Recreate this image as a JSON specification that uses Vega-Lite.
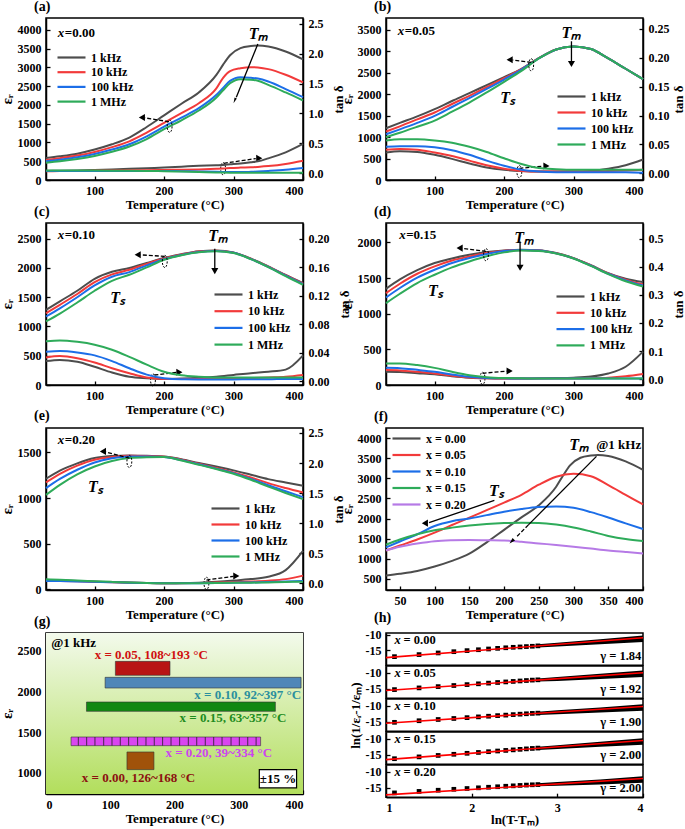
{
"$schema":"https://vega.github.io/schema/vega-lite/v6.json",
"background":"white",
"padding":{"left":-2,"top":-2,"right":0,"bottom":0},
"columns":2,
"spacing":{"row":43,"column":83},
"bounds":"flush",
"config":{
 "font":"Liberation Serif",
 "view":{"stroke":"black","strokeWidth":1.5},
 "axis":{"labelFont":"Liberation Serif","labelFontSize":12,"labelFontWeight":"bold","labelColor":"black","titleFont":"Liberation Serif","titleFontSize":13,"titleFontWeight":"bold","titleColor":"black","domainColor":"black","domainWidth":1.5,"tickColor":"black","tickWidth":1.3,"tickSize":-4,"labelPadding":9,"grid":false,"titlePadding":4},
 "axisX":{"titlePadding":2},
 "axisY":{"titlePadding":3},
 "title":{"font":"Liberation Serif","fontSize":14,"fontWeight":"bold","color":"black","anchor":"start","frame":"group","dx":-12,"offset":0},
 "text":{"font":"Liberation Serif","fontWeight":"bold","color":"black"},
 "legend":{"labelFont":"Liberation Serif","labelFontSize":12,"labelFontWeight":"bold","labelColor":"black","padding":0}
},
"resolve":{"scale":{"x":"independent","y":"independent","color":"independent","shape":"independent"}},
"datasets":{
"eps":[
{"p":"0.00","T":30,"1 kHz":585,"10 kHz":533,"100 kHz":498,"1 MHz":462},
{"p":"0.00","T":50,"1 kHz":630,"10 kHz":580,"100 kHz":540,"1 MHz":500},
{"p":"0.00","T":75,"1 kHz":700,"10 kHz":650,"100 kHz":605,"1 MHz":560},
{"p":"0.00","T":100,"1 kHz":810,"10 kHz":747,"100 kHz":693,"1 MHz":640},
{"p":"0.00","T":125,"1 kHz":950,"10 kHz":875,"100 kHz":810,"1 MHz":750},
{"p":"0.00","T":150,"1 kHz":1130,"10 kHz":1030,"100 kHz":950,"1 MHz":890},
{"p":"0.00","T":175,"1 kHz":1410,"10 kHz":1260,"100 kHz":1160,"1 MHz":1090},
{"p":"0.00","T":200,"1 kHz":1720,"10 kHz":1520,"100 kHz":1420,"1 MHz":1351},
{"p":"0.00","T":225,"1 kHz":2030,"10 kHz":1780,"100 kHz":1660,"1 MHz":1590},
{"p":"0.00","T":250,"1 kHz":2330,"10 kHz":2044,"100 kHz":1911,"1 MHz":1849},
{"p":"0.00","T":275,"1 kHz":2790,"10 kHz":2430,"100 kHz":2260,"1 MHz":2190},
{"p":"0.00","T":285,"1 kHz":3070,"10 kHz":2720,"100 kHz":2450,"1 MHz":2390},
{"p":"0.00","T":295,"1 kHz":3320,"10 kHz":2900,"100 kHz":2640,"1 MHz":2575},
{"p":"0.00","T":310,"1 kHz":3510,"10 kHz":2975,"100 kHz":2738,"1 MHz":2684},
{"p":"0.00","T":325,"1 kHz":3565,"10 kHz":3004,"100 kHz":2720,"1 MHz":2670},
{"p":"0.00","T":335,"1 kHz":3580,"10 kHz":2995,"100 kHz":2700,"1 MHz":2640},
{"p":"0.00","T":350,"1 kHz":3555,"10 kHz":2951,"100 kHz":2622,"1 MHz":2533},
{"p":"0.00","T":375,"1 kHz":3420,"10 kHz":2800,"100 kHz":2420,"1 MHz":2330},
{"p":"0.00","T":400,"1 kHz":3210,"10 kHz":2596,"100 kHz":2204,"1 MHz":2116},
{"p":"0.05","T":30,"1 kHz":1206,"10 kHz":1128,"100 kHz":1066,"1 MHz":996},
{"p":"0.05","T":50,"1 kHz":1330,"10 kHz":1250,"100 kHz":1180,"1 MHz":1100},
{"p":"0.05","T":75,"1 kHz":1480,"10 kHz":1410,"100 kHz":1330,"1 MHz":1240},
{"p":"0.05","T":100,"1 kHz":1649,"10 kHz":1571,"100 kHz":1493,"1 MHz":1384},
{"p":"0.05","T":125,"1 kHz":1840,"10 kHz":1770,"100 kHz":1700,"1 MHz":1590},
{"p":"0.05","T":150,"1 kHz":2022,"10 kHz":1960,"100 kHz":1906,"1 MHz":1804},
{"p":"0.05","T":175,"1 kHz":2210,"10 kHz":2160,"100 kHz":2120,"1 MHz":2040},
{"p":"0.05","T":200,"1 kHz":2396,"10 kHz":2370,"100 kHz":2340,"1 MHz":2287},
{"p":"0.05","T":225,"1 kHz":2590,"10 kHz":2580,"100 kHz":2570,"1 MHz":2540},
{"p":"0.05","T":250,"1 kHz":2840,"10 kHz":2835,"100 kHz":2833,"1 MHz":2830},
{"p":"0.05","T":275,"1 kHz":3040,"10 kHz":3040,"100 kHz":3040,"1 MHz":3040},
{"p":"0.05","T":300,"1 kHz":3110,"10 kHz":3110,"100 kHz":3110,"1 MHz":3110},
{"p":"0.05","T":325,"1 kHz":3050,"10 kHz":3050,"100 kHz":3050,"1 MHz":3050},
{"p":"0.05","T":350,"1 kHz":2830,"10 kHz":2830,"100 kHz":2830,"1 MHz":2830},
{"p":"0.05","T":375,"1 kHz":2590,"10 kHz":2590,"100 kHz":2590,"1 MHz":2590},
{"p":"0.05","T":400,"1 kHz":2350,"10 kHz":2350,"100 kHz":2350,"1 MHz":2350},
{"p":"0.10","T":30,"1 kHz":1284,"10 kHz":1227,"100 kHz":1170,"1 MHz":1085},
{"p":"0.10","T":50,"1 kHz":1430,"10 kHz":1370,"100 kHz":1310,"1 MHz":1220},
{"p":"0.10","T":75,"1 kHz":1610,"10 kHz":1555,"100 kHz":1500,"1 MHz":1410},
{"p":"0.10","T":100,"1 kHz":1815,"10 kHz":1758,"100 kHz":1701,"1 MHz":1610},
{"p":"0.10","T":125,"1 kHz":1935,"10 kHz":1890,"100 kHz":1850,"1 MHz":1780},
{"p":"0.10","T":150,"1 kHz":2000,"10 kHz":1969,"100 kHz":1929,"1 MHz":1884},
{"p":"0.10","T":175,"1 kHz":2085,"10 kHz":2070,"100 kHz":2045,"1 MHz":2010},
{"p":"0.10","T":200,"1 kHz":2169,"10 kHz":2160,"100 kHz":2150,"1 MHz":2140},
{"p":"0.10","T":225,"1 kHz":2235,"10 kHz":2228,"100 kHz":2222,"1 MHz":2218},
{"p":"0.10","T":250,"1 kHz":2285,"10 kHz":2280,"100 kHz":2272,"1 MHz":2268},
{"p":"0.10","T":275,"1 kHz":2300,"10 kHz":2295,"100 kHz":2288,"1 MHz":2285},
{"p":"0.10","T":300,"1 kHz":2266,"10 kHz":2262,"100 kHz":2258,"1 MHz":2255},
{"p":"0.10","T":325,"1 kHz":2160,"10 kHz":2157,"100 kHz":2153,"1 MHz":2150},
{"p":"0.10","T":350,"1 kHz":2026,"10 kHz":2022,"100 kHz":2018,"1 MHz":2015},
{"p":"0.10","T":375,"1 kHz":1880,"10 kHz":1875,"100 kHz":1868,"1 MHz":1860},
{"p":"0.10","T":400,"1 kHz":1741,"10 kHz":1732,"100 kHz":1722,"1 MHz":1712},
{"p":"0.15","T":30,"1 kHz":1349,"10 kHz":1288,"100 kHz":1227,"1 MHz":1148},
{"p":"0.15","T":50,"1 kHz":1480,"10 kHz":1420,"100 kHz":1360,"1 MHz":1280},
{"p":"0.15","T":75,"1 kHz":1610,"10 kHz":1560,"100 kHz":1505,"1 MHz":1430},
{"p":"0.15","T":100,"1 kHz":1710,"10 kHz":1663,"100 kHz":1616,"1 MHz":1546},
{"p":"0.15","T":125,"1 kHz":1775,"10 kHz":1745,"100 kHz":1710,"1 MHz":1650},
{"p":"0.15","T":150,"1 kHz":1827,"10 kHz":1803,"100 kHz":1780,"1 MHz":1733},
{"p":"0.15","T":175,"1 kHz":1865,"10 kHz":1850,"100 kHz":1838,"1 MHz":1805},
{"p":"0.15","T":200,"1 kHz":1888,"10 kHz":1882,"100 kHz":1878,"1 MHz":1860},
{"p":"0.15","T":225,"1 kHz":1897,"10 kHz":1895,"100 kHz":1893,"1 MHz":1885},
{"p":"0.15","T":250,"1 kHz":1890,"10 kHz":1888,"100 kHz":1886,"1 MHz":1880},
{"p":"0.15","T":275,"1 kHz":1850,"10 kHz":1848,"100 kHz":1846,"1 MHz":1845},
{"p":"0.15","T":300,"1 kHz":1780,"10 kHz":1778,"100 kHz":1776,"1 MHz":1775},
{"p":"0.15","T":325,"1 kHz":1680,"10 kHz":1677,"100 kHz":1674,"1 MHz":1670},
{"p":"0.15","T":350,"1 kHz":1569,"10 kHz":1565,"100 kHz":1560,"1 MHz":1555},
{"p":"0.15","T":375,"1 kHz":1490,"10 kHz":1478,"100 kHz":1468,"1 MHz":1455},
{"p":"0.15","T":400,"1 kHz":1443,"10 kHz":1410,"100 kHz":1395,"1 MHz":1382},
{"p":"0.20","T":30,"1 kHz":1211,"10 kHz":1171,"100 kHz":1109,"1 MHz":1035},
{"p":"0.20","T":50,"1 kHz":1300,"10 kHz":1265,"100 kHz":1210,"1 MHz":1145},
{"p":"0.20","T":75,"1 kHz":1380,"10 kHz":1355,"100 kHz":1310,"1 MHz":1260},
{"p":"0.20","T":100,"1 kHz":1438,"10 kHz":1420,"100 kHz":1390,"1 MHz":1346},
{"p":"0.20","T":125,"1 kHz":1460,"10 kHz":1450,"100 kHz":1435,"1 MHz":1405},
{"p":"0.20","T":150,"1 kHz":1467,"10 kHz":1462,"100 kHz":1456,"1 MHz":1438},
{"p":"0.20","T":175,"1 kHz":1462,"10 kHz":1460,"100 kHz":1455,"1 MHz":1447},
{"p":"0.20","T":200,"1 kHz":1456,"10 kHz":1452,"100 kHz":1450,"1 MHz":1449},
{"p":"0.20","T":225,"1 kHz":1425,"10 kHz":1420,"100 kHz":1415,"1 MHz":1412},
{"p":"0.20","T":250,"1 kHz":1383,"10 kHz":1375,"100 kHz":1370,"1 MHz":1365},
{"p":"0.20","T":275,"1 kHz":1345,"10 kHz":1330,"100 kHz":1322,"1 MHz":1317},
{"p":"0.20","T":300,"1 kHz":1303,"10 kHz":1281,"100 kHz":1273,"1 MHz":1266},
{"p":"0.20","T":325,"1 kHz":1255,"10 kHz":1225,"100 kHz":1210,"1 MHz":1200},
{"p":"0.20","T":350,"1 kHz":1207,"10 kHz":1163,"100 kHz":1140,"1 MHz":1125},
{"p":"0.20","T":375,"1 kHz":1170,"10 kHz":1110,"100 kHz":1075,"1 MHz":1055},
{"p":"0.20","T":400,"1 kHz":1134,"10 kHz":1061,"100 kHz":1010,"1 MHz":988}
],
"tan":[
{"p":"0.00","T":30,"1 kHz":0.04,"10 kHz":0.035,"100 kHz":0.04,"1 MHz":0.045},
{"p":"0.00","T":50,"1 kHz":0.043,"10 kHz":0.037,"100 kHz":0.04,"1 MHz":0.045},
{"p":"0.00","T":75,"1 kHz":0.048,"10 kHz":0.04,"100 kHz":0.04,"1 MHz":0.045},
{"p":"0.00","T":100,"1 kHz":0.056,"10 kHz":0.045,"100 kHz":0.04,"1 MHz":0.045},
{"p":"0.00","T":125,"1 kHz":0.065,"10 kHz":0.047,"100 kHz":0.04,"1 MHz":0.044},
{"p":"0.00","T":150,"1 kHz":0.075,"10 kHz":0.05,"100 kHz":0.04,"1 MHz":0.042},
{"p":"0.00","T":175,"1 kHz":0.085,"10 kHz":0.052,"100 kHz":0.04,"1 MHz":0.038},
{"p":"0.00","T":200,"1 kHz":0.095,"10 kHz":0.055,"100 kHz":0.04,"1 MHz":0.035},
{"p":"0.00","T":225,"1 kHz":0.11,"10 kHz":0.06,"100 kHz":0.035,"1 MHz":0.028},
{"p":"0.00","T":250,"1 kHz":0.125,"10 kHz":0.065,"100 kHz":0.03,"1 MHz":0.02},
{"p":"0.00","T":275,"1 kHz":0.135,"10 kHz":0.075,"100 kHz":0.025,"1 MHz":0.015},
{"p":"0.00","T":285,"1 kHz":0.14,"10 kHz":0.08,"100 kHz":0.022,"1 MHz":0.013},
{"p":"0.00","T":295,"1 kHz":0.15,"10 kHz":0.088,"100 kHz":0.02,"1 MHz":0.011},
{"p":"0.00","T":310,"1 kHz":0.165,"10 kHz":0.095,"100 kHz":0.02,"1 MHz":0.01},
{"p":"0.00","T":325,"1 kHz":0.185,"10 kHz":0.1,"100 kHz":0.025,"1 MHz":0.01},
{"p":"0.00","T":335,"1 kHz":0.2,"10 kHz":0.107,"100 kHz":0.03,"1 MHz":0.01},
{"p":"0.00","T":350,"1 kHz":0.25,"10 kHz":0.12,"100 kHz":0.04,"1 MHz":0.01},
{"p":"0.00","T":375,"1 kHz":0.35,"10 kHz":0.155,"100 kHz":0.06,"1 MHz":0.01},
{"p":"0.00","T":400,"1 kHz":0.49,"10 kHz":0.21,"100 kHz":0.09,"1 MHz":0.01},
{"p":"0.05","T":30,"1 kHz":0.036,"10 kHz":0.041,"100 kHz":0.046,"1 MHz":0.057},
{"p":"0.05","T":50,"1 kHz":0.038,"10 kHz":0.042,"100 kHz":0.047,"1 MHz":0.059},
{"p":"0.05","T":75,"1 kHz":0.037,"10 kHz":0.041,"100 kHz":0.047,"1 MHz":0.059},
{"p":"0.05","T":100,"1 kHz":0.032,"10 kHz":0.036,"100 kHz":0.045,"1 MHz":0.057},
{"p":"0.05","T":125,"1 kHz":0.025,"10 kHz":0.03,"100 kHz":0.04,"1 MHz":0.053},
{"p":"0.05","T":150,"1 kHz":0.017,"10 kHz":0.022,"100 kHz":0.032,"1 MHz":0.046},
{"p":"0.05","T":175,"1 kHz":0.01,"10 kHz":0.014,"100 kHz":0.022,"1 MHz":0.037},
{"p":"0.05","T":200,"1 kHz":0.006,"10 kHz":0.008,"100 kHz":0.013,"1 MHz":0.026},
{"p":"0.05","T":225,"1 kHz":0.004,"10 kHz":0.004,"100 kHz":0.006,"1 MHz":0.016},
{"p":"0.05","T":250,"1 kHz":0.003,"10 kHz":0.003,"100 kHz":0.003,"1 MHz":0.009},
{"p":"0.05","T":275,"1 kHz":0.003,"10 kHz":0.003,"100 kHz":0.002,"1 MHz":0.007},
{"p":"0.05","T":300,"1 kHz":0.003,"10 kHz":0.003,"100 kHz":0.002,"1 MHz":0.006},
{"p":"0.05","T":325,"1 kHz":0.004,"10 kHz":0.003,"100 kHz":0.002,"1 MHz":0.006},
{"p":"0.05","T":350,"1 kHz":0.008,"10 kHz":0.004,"100 kHz":0.002,"1 MHz":0.006},
{"p":"0.05","T":375,"1 kHz":0.014,"10 kHz":0.005,"100 kHz":0.002,"1 MHz":0.006},
{"p":"0.05","T":400,"1 kHz":0.024,"10 kHz":0.006,"100 kHz":0.001,"1 MHz":0.006},
{"p":"0.10","T":30,"1 kHz":0.028,"10 kHz":0.033,"100 kHz":0.041,"1 MHz":0.056},
{"p":"0.10","T":50,"1 kHz":0.0296,"10 kHz":0.035,"100 kHz":0.042,"1 MHz":0.057},
{"p":"0.10","T":75,"1 kHz":0.027,"10 kHz":0.032,"100 kHz":0.04,"1 MHz":0.055},
{"p":"0.10","T":100,"1 kHz":0.02,"10 kHz":0.026,"100 kHz":0.036,"1 MHz":0.051},
{"p":"0.10","T":125,"1 kHz":0.012,"10 kHz":0.018,"100 kHz":0.028,"1 MHz":0.044},
{"p":"0.10","T":150,"1 kHz":0.006,"10 kHz":0.011,"100 kHz":0.018,"1 MHz":0.034},
{"p":"0.10","T":175,"1 kHz":0.004,"10 kHz":0.005,"100 kHz":0.009,"1 MHz":0.023},
{"p":"0.10","T":200,"1 kHz":0.003,"10 kHz":0.003,"100 kHz":0.004,"1 MHz":0.013},
{"p":"0.10","T":225,"1 kHz":0.0035,"10 kHz":0.003,"100 kHz":0.0025,"1 MHz":0.008},
{"p":"0.10","T":250,"1 kHz":0.0045,"10 kHz":0.003,"100 kHz":0.0023,"1 MHz":0.006},
{"p":"0.10","T":275,"1 kHz":0.006,"10 kHz":0.003,"100 kHz":0.0023,"1 MHz":0.005},
{"p":"0.10","T":300,"1 kHz":0.0085,"10 kHz":0.003,"100 kHz":0.0023,"1 MHz":0.005},
{"p":"0.10","T":325,"1 kHz":0.011,"10 kHz":0.004,"100 kHz":0.0025,"1 MHz":0.005},
{"p":"0.10","T":350,"1 kHz":0.013,"10 kHz":0.005,"100 kHz":0.0025,"1 MHz":0.005},
{"p":"0.10","T":375,"1 kHz":0.016,"10 kHz":0.006,"100 kHz":0.003,"1 MHz":0.005},
{"p":"0.10","T":400,"1 kHz":0.036,"10 kHz":0.0085,"100 kHz":0.003,"1 MHz":0.005},
{"p":"0.15","T":30,"1 kHz":0.026,"10 kHz":0.032,"100 kHz":0.04,"1 MHz":0.056},
{"p":"0.15","T":50,"1 kHz":0.025,"10 kHz":0.031,"100 kHz":0.039,"1 MHz":0.056},
{"p":"0.15","T":75,"1 kHz":0.021,"10 kHz":0.026,"100 kHz":0.033,"1 MHz":0.05},
{"p":"0.15","T":100,"1 kHz":0.017,"10 kHz":0.02,"100 kHz":0.026,"1 MHz":0.04},
{"p":"0.15","T":125,"1 kHz":0.01,"10 kHz":0.012,"100 kHz":0.016,"1 MHz":0.026},
{"p":"0.15","T":150,"1 kHz":0.005,"10 kHz":0.006,"100 kHz":0.008,"1 MHz":0.014},
{"p":"0.15","T":175,"1 kHz":0.003,"10 kHz":0.003,"100 kHz":0.004,"1 MHz":0.007},
{"p":"0.15","T":200,"1 kHz":0.0024,"10 kHz":0.002,"100 kHz":0.003,"1 MHz":0.004},
{"p":"0.15","T":225,"1 kHz":0.0024,"10 kHz":0.002,"100 kHz":0.002,"1 MHz":0.003},
{"p":"0.15","T":250,"1 kHz":0.0028,"10 kHz":0.002,"100 kHz":0.002,"1 MHz":0.002},
{"p":"0.15","T":275,"1 kHz":0.0035,"10 kHz":0.002,"100 kHz":0.002,"1 MHz":0.002},
{"p":"0.15","T":300,"1 kHz":0.005,"10 kHz":0.002,"100 kHz":0.002,"1 MHz":0.002},
{"p":"0.15","T":325,"1 kHz":0.009,"10 kHz":0.003,"100 kHz":0.002,"1 MHz":0.002},
{"p":"0.15","T":350,"1 kHz":0.02,"10 kHz":0.005,"100 kHz":0.002,"1 MHz":0.002},
{"p":"0.15","T":375,"1 kHz":0.044,"10 kHz":0.01,"100 kHz":0.002,"1 MHz":0.002},
{"p":"0.15","T":400,"1 kHz":0.098,"10 kHz":0.018,"100 kHz":0.0024,"1 MHz":0.002},
{"p":"0.20","T":30,"1 kHz":0.056,"10 kHz":0.044,"100 kHz":0.04,"1 MHz":0.067},
{"p":"0.20","T":50,"1 kHz":0.05,"10 kHz":0.04,"100 kHz":0.037,"1 MHz":0.06},
{"p":"0.20","T":75,"1 kHz":0.04,"10 kHz":0.034,"100 kHz":0.032,"1 MHz":0.048},
{"p":"0.20","T":100,"1 kHz":0.028,"10 kHz":0.026,"100 kHz":0.025,"1 MHz":0.035},
{"p":"0.20","T":125,"1 kHz":0.02,"10 kHz":0.018,"100 kHz":0.018,"1 MHz":0.024},
{"p":"0.20","T":150,"1 kHz":0.012,"10 kHz":0.01,"100 kHz":0.01,"1 MHz":0.014},
{"p":"0.20","T":175,"1 kHz":0.005,"10 kHz":0.005,"100 kHz":0.005,"1 MHz":0.006},
{"p":"0.20","T":200,"1 kHz":0.002,"10 kHz":0.002,"100 kHz":0.002,"1 MHz":0.002},
{"p":"0.20","T":225,"1 kHz":0.004,"10 kHz":0.003,"100 kHz":0.002,"1 MHz":0.002},
{"p":"0.20","T":250,"1 kHz":0.011,"10 kHz":0.005,"100 kHz":0.003,"1 MHz":0.002},
{"p":"0.20","T":275,"1 kHz":0.025,"10 kHz":0.012,"100 kHz":0.005,"1 MHz":0.004},
{"p":"0.20","T":300,"1 kHz":0.045,"10 kHz":0.02,"100 kHz":0.01,"1 MHz":0.008},
{"p":"0.20","T":325,"1 kHz":0.07,"10 kHz":0.03,"100 kHz":0.015,"1 MHz":0.011},
{"p":"0.20","T":350,"1 kHz":0.11,"10 kHz":0.044,"100 kHz":0.02,"1 MHz":0.015},
{"p":"0.20","T":375,"1 kHz":0.22,"10 kHz":0.07,"100 kHz":0.03,"1 MHz":0.022},
{"p":"0.20","T":400,"1 kHz":0.54,"10 kHz":0.128,"100 kHz":0.04,"1 MHz":0.028}
],
"ann":[
{"p":"0.00","k":"x","T":47,"v":3911,"lab":"=0.00"},
{"p":"0.00","k":"T","T":336,"v":3880,"lab":"Tₘ"},
{"p":"0.00","k":"r","T":335,"v":3620,"T2":304,"v2":2200},
{"p":"0.00","k":"h","T":302,"v":2140,"h":"DL2"},
{"p":"0.00","k":"q","T":207,"v":1552,"T2":172,"v2":1655},
{"p":"0.00","k":"h","T":168,"v":1662,"h":"L"},
{"p":"0.00","k":"q","T":286,"v":445,"T2":332,"v2":570},
{"p":"0.00","k":"h","T":337,"v":578,"h":"R"},
{"p":"0.00","k":"e","T":208,"v":1430},
{"p":"0.00","k":"e","T":285,"v":300},
{"p":"0.05","k":"x","T":47,"v":3461,"lab":"=0.05"},
{"p":"0.05","k":"T","T":297,"v":3422,"lab":"Tₘ"},
{"p":"0.05","k":"T","T":205,"v":1906,"lab":"Tₛ"},
{"p":"0.05","k":"r","T":297,"v":3230,"T2":297,"v2":2740},
{"p":"0.05","k":"h","T":297,"v":2700,"h":"D"},
{"p":"0.05","k":"q","T":239,"v":2738,"T2":212,"v2":2795},
{"p":"0.05","k":"h","T":208,"v":2800,"h":"L"},
{"p":"0.05","k":"q","T":222,"v":272,"T2":256,"v2":322},
{"p":"0.05","k":"h","T":261,"v":327,"h":"R"},
{"p":"0.05","k":"e","T":239,"v":2683},
{"p":"0.05","k":"e","T":222,"v":194},
{"p":"0.10","k":"x","T":47,"v":2569,"lab":"=0.10"},
{"p":"0.10","k":"T","T":278,"v":2540,"lab":"Tₘ"},
{"p":"0.10","k":"T","T":133,"v":1484,"lab":"Tₛ"},
{"p":"0.10","k":"r","T":273,"v":2330,"T2":273,"v2":1975},
{"p":"0.10","k":"h","T":273,"v":1945,"h":"D"},
{"p":"0.10","k":"q","T":201,"v":2198,"T2":166,"v2":2224},
{"p":"0.10","k":"h","T":162,"v":2226,"h":"L"},
{"p":"0.10","k":"q","T":186,"v":171,"T2":218,"v2":214},
{"p":"0.10","k":"h","T":222,"v":217,"h":"R"},
{"p":"0.10","k":"e","T":201,"v":2112},
{"p":"0.10","k":"e","T":184,"v":86},
{"p":"0.15","k":"x","T":49,"v":2108,"lab":"=0.15"},
{"p":"0.15","k":"T","T":229,"v":2061,"lab":"Tₘ"},
{"p":"0.15","k":"T","T":101,"v":1321,"lab":"Tₛ"},
{"p":"0.15","k":"r","T":223,"v":2014,"T2":223,"v2":1670},
{"p":"0.15","k":"h","T":223,"v":1645,"h":"D"},
{"p":"0.15","k":"q","T":174,"v":1874,"T2":140,"v2":1916},
{"p":"0.15","k":"h","T":136,"v":1920,"h":"L"},
{"p":"0.15","k":"q","T":169,"v":164,"T2":204,"v2":195},
{"p":"0.15","k":"h","T":208,"v":197,"h":"R"},
{"p":"0.15","k":"e","T":174,"v":1827},
{"p":"0.15","k":"e","T":169,"v":94},
{"p":"0.20","k":"x","T":47,"v":1639,"lab":"=0.20"},
{"p":"0.20","k":"T","T":101,"v":1120,"lab":"Tₛ"},
{"p":"0.20","k":"q","T":150,"v":1438,"T2":116,"v2":1505},
{"p":"0.20","k":"h","T":112,"v":1511,"h":"L"},
{"p":"0.20","k":"q","T":261,"v":102,"T2":300,"v2":143},
{"p":"0.20","k":"h","T":304,"v":146,"h":"R"},
{"p":"0.20","k":"e","T":150,"v":1401},
{"p":"0.20","k":"e","T":261,"v":66},
{"p":"f","k":"T","T":308,"v":3834,"lab":"Tₘ"},
{"p":"f","k":"t","T":365,"v":3834,"lab":"@1 kHz"},
{"p":"f","k":"r","T":333,"v":3544,"T2":235,"v2":1844},
{"p":"f","k":"q","T":235,"v":1844,"T2":217,"v2":1530},
{"p":"f","k":"h","T":213,"v":1470,"h":"DL"},
{"p":"f","k":"T","T":189,"v":2673,"lab":"Tₛ"},
{"p":"f","k":"r","T":186,"v":2449,"T2":92,"v2":1900},
{"p":"f","k":"h","T":86,"v":1886,"h":"L"}
],
"g":[
{"c":"0.05","x1":108,"x2":193,"y1":2194,"y2":2365,"lab":"x = 0.05, 108~193 °C","lx":252,"ly":2447},
{"c":"0.10","x1":92,"x2":397,"y1":2039,"y2":2170,"lab":"x = 0.10, 92~397 °C","lx":397,"ly":1950},
{"c":"0.15","x1":63,"x2":357,"y1":1754,"y2":1868,"lab":"x = 0.15, 63~357 °C","lx":374,"ly":1673},
{"c":"0.20","x1":39,"x2":334,"y1":1334,"y2":1440,"lab":"x = 0.20, 39~334 °C","lx":352,"ly":1245},
{"c":"0.00","x1":126,"x2":168,"y1":1041,"y2":1257,"lab":"x = 0.00, 126~168 °C","lx":232,"ly":939}
],
"sep":[
{"x":50.3,"y1":1334,"y2":1440},{"x":63.3,"y1":1334,"y2":1440},{"x":76.2,"y1":1334,"y2":1440},{"x":89.8,"y1":1334,"y2":1440},{"x":102.7,"y1":1334,"y2":1440},{"x":115.6,"y1":1334,"y2":1440},{"x":128.6,"y1":1334,"y2":1440},{"x":142.6,"y1":1334,"y2":1440},{"x":155.6,"y1":1334,"y2":1440},{"x":168.5,"y1":1334,"y2":1440},{"x":181.5,"y1":1334,"y2":1440},{"x":194.6,"y1":1334,"y2":1440},{"x":208,"y1":1334,"y2":1440},{"x":221.5,"y1":1334,"y2":1440},{"x":234.6,"y1":1334,"y2":1440},{"x":247.9,"y1":1334,"y2":1440},{"x":261,"y1":1334,"y2":1440},{"x":274,"y1":1334,"y2":1440},{"x":288,"y1":1334,"y2":1440},{"x":300.9,"y1":1334,"y2":1440},{"x":314,"y1":1334,"y2":1440},{"x":327,"y1":1334,"y2":1440}
],
"h":[
{"s":"0.00","k":"p","x":1.099,"y":-16.99},{"s":"0.00","k":"p","x":1.386,"y":-16.34},{"s":"0.00","k":"p","x":1.609,"y":-15.82},{"s":"0.00","k":"p","x":1.792,"y":-15.42},{"s":"0.00","k":"p","x":1.946,"y":-15.08},{"s":"0.00","k":"p","x":2.079,"y":-14.8},{"s":"0.00","k":"p","x":2.197,"y":-14.56},{"s":"0.00","k":"p","x":2.303,"y":-14.36},{"s":"0.00","k":"p","x":2.398,"y":-14.18},{"s":"0.00","k":"p","x":2.485,"y":-14.03},{"s":"0.00","k":"p","x":2.565,"y":-13.91},{"s":"0.00","k":"p","x":2.639,"y":-13.8},{"s":"0.00","k":"p","x":2.708,"y":-13.7},{"s":"0.00","k":"p","x":2.773,"y":-13.58},
{"s":"0.00","k":"b","x":2.773,"y":-14.08,"y2":-13.08},{"s":"0.00","k":"b","x":3.0,"y":-13.8,"y2":-12.55},{"s":"0.00","k":"b","x":3.5,"y":-13.05,"y2":-11.45},{"s":"0.00","k":"b","x":4.0,"y":-12.35,"y2":-10.3},
{"s":"0.00","k":"f","x":1,"y":-17.3},{"s":"0.00","k":"f","x":4,"y":-11.0},
{"s":"0.00","k":"t","x":1.1,"y":-11.8,"lab":"= 0.00"},{"s":"0.00","k":"g","x":3.98,"y":-16.9,"lab":"γ = 1.84"},
{"s":"0.05","k":"p","x":1.099,"y":-15.31},{"s":"0.05","k":"p","x":1.386,"y":-14.77},{"s":"0.05","k":"p","x":1.609,"y":-14.36},{"s":"0.05","k":"p","x":1.792,"y":-14.01},{"s":"0.05","k":"p","x":1.946,"y":-13.72},{"s":"0.05","k":"p","x":2.079,"y":-13.47},{"s":"0.05","k":"p","x":2.197,"y":-13.25},{"s":"0.05","k":"p","x":2.303,"y":-13.05},{"s":"0.05","k":"p","x":2.398,"y":-12.87},{"s":"0.05","k":"p","x":2.485,"y":-12.71},{"s":"0.05","k":"p","x":2.565,"y":-12.56},{"s":"0.05","k":"p","x":2.639,"y":-12.42},{"s":"0.05","k":"p","x":2.708,"y":-12.29},{"s":"0.05","k":"p","x":2.773,"y":-12.2},
{"s":"0.05","k":"b","x":2.773,"y":-12.77,"y2":-11.77},{"s":"0.05","k":"b","x":3.0,"y":-12.54,"y2":-11.29},{"s":"0.05","k":"b","x":3.5,"y":-11.9,"y2":-10.3},{"s":"0.05","k":"b","x":4.0,"y":-11.31,"y2":-9.26},
{"s":"0.05","k":"f","x":1,"y":-15.6},{"s":"0.05","k":"f","x":4,"y":-9.96},
{"s":"0.05","k":"t","x":1.1,"y":-9.9,"lab":"= 0.05"},{"s":"0.05","k":"g","x":3.98,"y":-15.2,"lab":"γ = 1.92"},
{"s":"0.10","k":"p","x":1.099,"y":-15.22},{"s":"0.10","k":"p","x":1.386,"y":-14.72},{"s":"0.10","k":"p","x":1.609,"y":-14.32},{"s":"0.10","k":"p","x":1.792,"y":-14.0},{"s":"0.10","k":"p","x":1.946,"y":-13.73},{"s":"0.10","k":"p","x":2.079,"y":-13.49},{"s":"0.10","k":"p","x":2.197,"y":-13.28},{"s":"0.10","k":"p","x":2.303,"y":-13.09},{"s":"0.10","k":"p","x":2.398,"y":-12.93},{"s":"0.10","k":"p","x":2.485,"y":-12.77},{"s":"0.10","k":"p","x":2.565,"y":-12.63},{"s":"0.10","k":"p","x":2.639,"y":-12.5},{"s":"0.10","k":"p","x":2.708,"y":-12.38},{"s":"0.10","k":"p","x":2.773,"y":-12.3},
{"s":"0.10","k":"b","x":2.773,"y":-12.86,"y2":-11.86},{"s":"0.10","k":"b","x":3.0,"y":-12.66,"y2":-11.41},{"s":"0.10","k":"b","x":3.5,"y":-12.08,"y2":-10.48},{"s":"0.10","k":"b","x":4.0,"y":-11.54,"y2":-9.49},
{"s":"0.10","k":"f","x":1,"y":-15.5},{"s":"0.10","k":"f","x":4,"y":-10.19},
{"s":"0.10","k":"t","x":1.1,"y":-9.9,"lab":"= 0.10"},{"s":"0.10","k":"g","x":3.98,"y":-15.2,"lab":"γ = 1.90"},
{"s":"0.15","k":"p","x":1.099,"y":-16.3},{"s":"0.15","k":"p","x":1.386,"y":-15.72},{"s":"0.15","k":"p","x":1.609,"y":-15.26},{"s":"0.15","k":"p","x":1.792,"y":-14.89},{"s":"0.15","k":"p","x":1.946,"y":-14.58},{"s":"0.15","k":"p","x":2.079,"y":-14.31},{"s":"0.15","k":"p","x":2.197,"y":-14.07},{"s":"0.15","k":"p","x":2.303,"y":-13.85},{"s":"0.15","k":"p","x":2.398,"y":-13.66},{"s":"0.15","k":"p","x":2.485,"y":-13.49},{"s":"0.15","k":"p","x":2.565,"y":-13.32},{"s":"0.15","k":"p","x":2.639,"y":-13.17},{"s":"0.15","k":"p","x":2.708,"y":-13.03},{"s":"0.15","k":"p","x":2.773,"y":-12.92},
{"s":"0.15","k":"b","x":2.773,"y":-13.5,"y2":-12.5},{"s":"0.15","k":"b","x":3.0,"y":-13.24,"y2":-11.99},{"s":"0.15","k":"b","x":3.5,"y":-12.53,"y2":-10.93},{"s":"0.15","k":"b","x":4.0,"y":-11.86,"y2":-9.81},
{"s":"0.15","k":"f","x":1,"y":-16.6},{"s":"0.15","k":"f","x":4,"y":-10.51},
{"s":"0.15","k":"t","x":1.1,"y":-9.9,"lab":"= 0.15"},{"s":"0.15","k":"g","x":3.98,"y":-15.2,"lab":"γ = 2.00"},
{"s":"0.20","k":"p","x":1.099,"y":-16.68},{"s":"0.20","k":"p","x":1.386,"y":-16.2},{"s":"0.20","k":"p","x":1.609,"y":-15.83},{"s":"0.20","k":"p","x":1.792,"y":-15.53},{"s":"0.20","k":"p","x":1.946,"y":-15.28},{"s":"0.20","k":"p","x":2.079,"y":-15.06},{"s":"0.20","k":"p","x":2.197,"y":-14.88},{"s":"0.20","k":"p","x":2.303,"y":-14.72},{"s":"0.20","k":"p","x":2.398,"y":-14.56},{"s":"0.20","k":"p","x":2.485,"y":-14.43},{"s":"0.20","k":"p","x":2.565,"y":-14.3},{"s":"0.20","k":"p","x":2.639,"y":-14.19},{"s":"0.20","k":"p","x":2.708,"y":-14.1},{"s":"0.20","k":"p","x":2.773,"y":-14.03},
{"s":"0.20","k":"b","x":2.773,"y":-14.53,"y2":-13.63},{"s":"0.20","k":"b","x":3.0,"y":-14.44,"y2":-13.19},{"s":"0.20","k":"b","x":3.5,"y":-13.98,"y2":-12.38},{"s":"0.20","k":"b","x":4.0,"y":-13.46,"y2":-11.41},
{"s":"0.20","k":"f","x":1,"y":-17.3},{"s":"0.20","k":"f","x":4,"y":-12.11},
{"s":"0.20","k":"t","x":1.1,"y":-9.9,"lab":"= 0.20"},{"s":"0.20","k":"g","x":3.98,"y":-15.2,"lab":"γ = 2.00"}
]
},
"concat":[
{"width":257,"height":162,"title":{"text":"(a)"},
 "encoding":{"x":{"field":"T","type":"quantitative","title":"Temperature (°C)","scale":{"domain":[30,400],"nice":false,"zero":false},"axis":{"values":[100,200,300,400]}}},
 "layer":[
  {"encoding":{"y":{"field":"v","type":"quantitative","title":"εᵣ","scale":{"domain":[0,4312],"nice":false,"zero":false},"axis":{"values":[0,500,1000,1500,2000,2500,3000,3500,4000],"format":"d","titleFontSize":15}}},
   "layer":[
    {"data":{"name":"eps"},"transform":[{"filter":"datum.p=='0.00'"},{"fold":["1 kHz","10 kHz","100 kHz","1 MHz"],"as":["f","v"]}],
     "mark":{"type":"line","interpolate":"monotone","strokeWidth":2},
     "encoding":{"color":{"field":"f","type":"nominal","scale":{"domain":["1 kHz","10 kHz","100 kHz","1 MHz"],"range":["#4d4d4d","#f23a3a","#1c6ee8","#2eab5a"]},"legend":{"orient":"none","legendX":19,"legendY":33,"title":null,"symbolType":"M-2.8,0H2.8","symbolSize":100,"symbolStrokeWidth":2.2,"labelOffset":13,"rowPadding":1.7}}}},
    {"data":{"name":"ann"},"transform":[{"filter":"datum.p=='0.00'"}],
     "layer":[
      {"transform":[{"filter":"datum.k=='x'"}],"mark":{"type":"text","text":"x","fontStyle":"italic","fontSize":13,"align":"left","baseline":"middle"}},
      {"transform":[{"filter":"datum.k=='x'"}],"mark":{"type":"text","fontSize":13,"align":"left","baseline":"middle","dx":7},"encoding":{"text":{"field":"lab"}}},
      {"transform":[{"filter":"datum.k=='T'"}],"mark":{"type":"text","fontSize":16,"fontStyle":"italic","align":"center","baseline":"middle"},"encoding":{"text":{"field":"lab"}}},
      {"transform":[{"filter":"datum.k=='r'"}],"mark":{"type":"rule","color":"black","strokeWidth":1.3},"encoding":{"x2":{"field":"T2"},"y2":{"field":"v2"}}},
      {"transform":[{"filter":"datum.k=='q'"}],"mark":{"type":"rule","color":"black","strokeWidth":1.3,"strokeDash":[4,2]},"encoding":{"x2":{"field":"T2"},"y2":{"field":"v2"}}},
      {"transform":[{"filter":"datum.k=='h'"}],"mark":{"type":"point","filled":true,"color":"black","size":50,"opacity":1},"encoding":{"shape":{"field":"h","type":"nominal","scale":{"domain":["L","R","D","DL","DL2"],"range":["triangle-left","triangle-right","triangle-down","M-1,1L-0.15,-0.55L0.55,0.15Z","M-0.4,1L0.54,-0.33L-0.1,-0.61Z"]},"legend":null}}},
      {"transform":[{"filter":"datum.k=='e'"}],"mark":{"type":"point","filled":false,"color":"black","strokeWidth":1,"strokeDash":[2,1.5],"size":150,"opacity":1,"shape":"M0,-1A0.4,1,0,1,1,0,1A0.4,1,0,1,1,0,-1Z"}}
     ]}
   ]},
  {"data":{"name":"tan"},"transform":[{"filter":"datum.p=='0.00'"},{"fold":["1 kHz","10 kHz","100 kHz","1 MHz"],"as":["f","v"]}],
   "mark":{"type":"line","interpolate":"monotone","strokeWidth":2},
   "encoding":{"y":{"field":"v","type":"quantitative","title":"tan δ","scale":{"domain":[-0.112,2.595],"nice":false,"zero":false},"axis":{"orient":"right","values":[0,0.5,1,1.5,2,2.5],"format":".1f","titleAngle":-90,"titleBaseline":"top","titlePadding":9}},
    "color":{"field":"f","type":"nominal","scale":{"domain":["1 kHz","10 kHz","100 kHz","1 MHz"],"range":["#4d4d4d","#f23a3a","#1c6ee8","#2eab5a"]},"legend":{"orient":"none","legendX":19,"legendY":33,"title":null,"symbolType":"M-2.8,0H2.8","symbolSize":100,"symbolStrokeWidth":2.2,"labelOffset":13,"rowPadding":1.7}}}}
 ],
 "resolve":{"scale":{"y":"independent"}}
},
{"width":257,"height":162,"title":{"text":"(b)"},
 "encoding":{"x":{"field":"T","type":"quantitative","title":"Temperature (°C)","scale":{"domain":[30,400],"nice":false,"zero":false},"axis":{"values":[100,200,300,400]}}},
 "layer":[
  {"encoding":{"y":{"field":"v","type":"quantitative","title":"εᵣ","scale":{"domain":[0,3772],"nice":false,"zero":false},"axis":{"values":[0,500,1000,1500,2000,2500,3000,3500],"format":"d","titleFontSize":15}}},
   "layer":[
    {"data":{"name":"eps"},"transform":[{"filter":"datum.p=='0.05'"},{"fold":["1 kHz","10 kHz","100 kHz","1 MHz"],"as":["f","v"]}],
     "mark":{"type":"line","interpolate":"monotone","strokeWidth":2},
     "encoding":{"color":{"field":"f","type":"nominal","scale":{"domain":["1 kHz","10 kHz","100 kHz","1 MHz"],"range":["#4d4d4d","#f23a3a","#1c6ee8","#2eab5a"]},"legend":{"orient":"none","legendX":179,"legendY":72,"title":null,"symbolType":"M-2.8,0H2.8","symbolSize":100,"symbolStrokeWidth":2.2,"labelOffset":13,"rowPadding":3}}}},
    {"data":{"name":"ann"},"transform":[{"filter":"datum.p=='0.05'"}],
     "layer":[
      {"transform":[{"filter":"datum.k=='x'"}],"mark":{"type":"text","text":"x","fontStyle":"italic","fontSize":13,"align":"left","baseline":"middle"}},
      {"transform":[{"filter":"datum.k=='x'"}],"mark":{"type":"text","fontSize":13,"align":"left","baseline":"middle","dx":7},"encoding":{"text":{"field":"lab"}}},
      {"transform":[{"filter":"datum.k=='T'"}],"mark":{"type":"text","fontSize":16,"fontStyle":"italic","align":"center","baseline":"middle"},"encoding":{"text":{"field":"lab"}}},
      {"transform":[{"filter":"datum.k=='r'"}],"mark":{"type":"rule","color":"black","strokeWidth":1.3},"encoding":{"x2":{"field":"T2"},"y2":{"field":"v2"}}},
      {"transform":[{"filter":"datum.k=='q'"}],"mark":{"type":"rule","color":"black","strokeWidth":1.3,"strokeDash":[4,2]},"encoding":{"x2":{"field":"T2"},"y2":{"field":"v2"}}},
      {"transform":[{"filter":"datum.k=='h'"}],"mark":{"type":"point","filled":true,"color":"black","size":50,"opacity":1},"encoding":{"shape":{"field":"h","type":"nominal","scale":{"domain":["L","R","D","DL","DL2"],"range":["triangle-left","triangle-right","triangle-down","M-1,1L-0.15,-0.55L0.55,0.15Z","M-0.4,1L0.54,-0.33L-0.1,-0.61Z"]},"legend":null}}},
      {"transform":[{"filter":"datum.k=='e'"}],"mark":{"type":"point","filled":false,"color":"black","strokeWidth":1,"strokeDash":[2,1.5],"size":150,"opacity":1,"shape":"M0,-1A0.4,1,0,1,1,0,1A0.4,1,0,1,1,0,-1Z"}}
     ]}
   ]},
  {"data":{"name":"tan"},"transform":[{"filter":"datum.p=='0.05'"},{"fold":["1 kHz","10 kHz","100 kHz","1 MHz"],"as":["f","v"]}],
   "mark":{"type":"line","interpolate":"monotone","strokeWidth":2},
   "encoding":{"y":{"field":"v","type":"quantitative","title":"tan δ","scale":{"domain":[-0.0116,0.269],"nice":false,"zero":false},"axis":{"orient":"right","values":[0,0.05,0.1,0.15,0.2,0.25],"format":".2f","titleAngle":-90,"titleBaseline":"top","titlePadding":3}},
    "color":{"field":"f","type":"nominal","scale":{"domain":["1 kHz","10 kHz","100 kHz","1 MHz"],"range":["#4d4d4d","#f23a3a","#1c6ee8","#2eab5a"]},"legend":{"orient":"none","legendX":179,"legendY":72,"title":null,"symbolType":"M-2.8,0H2.8","symbolSize":100,"symbolStrokeWidth":2.2,"labelOffset":13,"rowPadding":3}}}}
 ],
 "resolve":{"scale":{"y":"independent"}}
},
{"width":257,"height":162,"title":{"text":"(c)"},
 "encoding":{"x":{"field":"T","type":"quantitative","title":"Temperature (°C)","scale":{"domain":[30,400],"nice":false,"zero":false},"axis":{"values":[100,200,300,400]}}},
 "layer":[
  {"encoding":{"y":{"field":"v","type":"quantitative","title":"εᵣ","scale":{"domain":[0,2768],"nice":false,"zero":false},"axis":{"values":[0,500,1000,1500,2000,2500],"format":"d","titleFontSize":15}}},
   "layer":[
    {"data":{"name":"eps"},"transform":[{"filter":"datum.p=='0.10'"},{"fold":["1 kHz","10 kHz","100 kHz","1 MHz"],"as":["f","v"]}],
     "mark":{"type":"line","interpolate":"monotone","strokeWidth":2},
     "encoding":{"color":{"field":"f","type":"nominal","scale":{"domain":["1 kHz","10 kHz","100 kHz","1 MHz"],"range":["#4d4d4d","#f23a3a","#1c6ee8","#2eab5a"]},"legend":{"orient":"none","legendX":176,"legendY":65,"title":null,"symbolType":"M-2.8,0H2.8","symbolSize":100,"symbolStrokeWidth":2.2,"labelOffset":13,"rowPadding":3.7}}}},
    {"data":{"name":"ann"},"transform":[{"filter":"datum.p=='0.10'"}],
     "layer":[
      {"transform":[{"filter":"datum.k=='x'"}],"mark":{"type":"text","text":"x","fontStyle":"italic","fontSize":13,"align":"left","baseline":"middle"}},
      {"transform":[{"filter":"datum.k=='x'"}],"mark":{"type":"text","fontSize":13,"align":"left","baseline":"middle","dx":7},"encoding":{"text":{"field":"lab"}}},
      {"transform":[{"filter":"datum.k=='T'"}],"mark":{"type":"text","fontSize":16,"fontStyle":"italic","align":"center","baseline":"middle"},"encoding":{"text":{"field":"lab"}}},
      {"transform":[{"filter":"datum.k=='r'"}],"mark":{"type":"rule","color":"black","strokeWidth":1.3},"encoding":{"x2":{"field":"T2"},"y2":{"field":"v2"}}},
      {"transform":[{"filter":"datum.k=='q'"}],"mark":{"type":"rule","color":"black","strokeWidth":1.3,"strokeDash":[4,2]},"encoding":{"x2":{"field":"T2"},"y2":{"field":"v2"}}},
      {"transform":[{"filter":"datum.k=='h'"}],"mark":{"type":"point","filled":true,"color":"black","size":50,"opacity":1},"encoding":{"shape":{"field":"h","type":"nominal","scale":{"domain":["L","R","D","DL","DL2"],"range":["triangle-left","triangle-right","triangle-down","M-1,1L-0.15,-0.55L0.55,0.15Z","M-0.4,1L0.54,-0.33L-0.1,-0.61Z"]},"legend":null}}},
      {"transform":[{"filter":"datum.k=='e'"}],"mark":{"type":"point","filled":false,"color":"black","strokeWidth":1,"strokeDash":[2,1.5],"size":150,"opacity":1,"shape":"M0,-1A0.4,1,0,1,1,0,1A0.4,1,0,1,1,0,-1Z"}}
     ]}
   ]},
  {"data":{"name":"tan"},"transform":[{"filter":"datum.p=='0.10'"},{"fold":["1 kHz","10 kHz","100 kHz","1 MHz"],"as":["f","v"]}],
   "mark":{"type":"line","interpolate":"monotone","strokeWidth":2},
   "encoding":{"y":{"field":"v","type":"quantitative","title":"tan δ","scale":{"domain":[-0.0056,0.222],"nice":false,"zero":false},"axis":{"orient":"right","values":[0,0.04,0.08,0.12,0.16,0.2],"format":".2f","titleAngle":-90,"titleBaseline":"top","titlePadding":9}},
    "color":{"field":"f","type":"nominal","scale":{"domain":["1 kHz","10 kHz","100 kHz","1 MHz"],"range":["#4d4d4d","#f23a3a","#1c6ee8","#2eab5a"]},"legend":{"orient":"none","legendX":176,"legendY":65,"title":null,"symbolType":"M-2.8,0H2.8","symbolSize":100,"symbolStrokeWidth":2.2,"labelOffset":13,"rowPadding":3.7}}}}
 ],
 "resolve":{"scale":{"y":"independent"}}
},
{"width":257,"height":162,"title":{"text":"(d)"},
 "encoding":{"x":{"field":"T","type":"quantitative","title":"Temperature (°C)","scale":{"domain":[30,400],"nice":false,"zero":false},"axis":{"values":[100,200,300,400]}}},
 "layer":[
  {"encoding":{"y":{"field":"v","type":"quantitative","title":"εᵣ","scale":{"domain":[0,2272],"nice":false,"zero":false},"axis":{"values":[0,500,1000,1500,2000],"format":"d","titleFontSize":15}}},
   "layer":[
    {"data":{"name":"eps"},"transform":[{"filter":"datum.p=='0.15'"},{"fold":["1 kHz","10 kHz","100 kHz","1 MHz"],"as":["f","v"]}],
     "mark":{"type":"line","interpolate":"monotone","strokeWidth":2},
     "encoding":{"color":{"field":"f","type":"nominal","scale":{"domain":["1 kHz","10 kHz","100 kHz","1 MHz"],"range":["#4d4d4d","#f23a3a","#1c6ee8","#2eab5a"]},"legend":{"orient":"none","legendX":178,"legendY":67,"title":null,"symbolType":"M-2.8,0H2.8","symbolSize":100,"symbolStrokeWidth":2.2,"labelOffset":13,"rowPadding":3.3}}}},
    {"data":{"name":"ann"},"transform":[{"filter":"datum.p=='0.15'"}],
     "layer":[
      {"transform":[{"filter":"datum.k=='x'"}],"mark":{"type":"text","text":"x","fontStyle":"italic","fontSize":13,"align":"left","baseline":"middle"}},
      {"transform":[{"filter":"datum.k=='x'"}],"mark":{"type":"text","fontSize":13,"align":"left","baseline":"middle","dx":7},"encoding":{"text":{"field":"lab"}}},
      {"transform":[{"filter":"datum.k=='T'"}],"mark":{"type":"text","fontSize":16,"fontStyle":"italic","align":"center","baseline":"middle"},"encoding":{"text":{"field":"lab"}}},
      {"transform":[{"filter":"datum.k=='r'"}],"mark":{"type":"rule","color":"black","strokeWidth":1.3},"encoding":{"x2":{"field":"T2"},"y2":{"field":"v2"}}},
      {"transform":[{"filter":"datum.k=='q'"}],"mark":{"type":"rule","color":"black","strokeWidth":1.3,"strokeDash":[4,2]},"encoding":{"x2":{"field":"T2"},"y2":{"field":"v2"}}},
      {"transform":[{"filter":"datum.k=='h'"}],"mark":{"type":"point","filled":true,"color":"black","size":50,"opacity":1},"encoding":{"shape":{"field":"h","type":"nominal","scale":{"domain":["L","R","D","DL","DL2"],"range":["triangle-left","triangle-right","triangle-down","M-1,1L-0.15,-0.55L0.55,0.15Z","M-0.4,1L0.54,-0.33L-0.1,-0.61Z"]},"legend":null}}},
      {"transform":[{"filter":"datum.k=='e'"}],"mark":{"type":"point","filled":false,"color":"black","strokeWidth":1,"strokeDash":[2,1.5],"size":150,"opacity":1,"shape":"M0,-1A0.4,1,0,1,1,0,1A0.4,1,0,1,1,0,-1Z"}}
     ]}
   ]},
  {"data":{"name":"tan"},"transform":[{"filter":"datum.p=='0.15'"},{"fold":["1 kHz","10 kHz","100 kHz","1 MHz"],"as":["f","v"]}],
   "mark":{"type":"line","interpolate":"monotone","strokeWidth":2},
   "encoding":{"y":{"field":"v","type":"quantitative","title":"tan δ","scale":{"domain":[-0.021,0.556],"nice":false,"zero":false},"axis":{"orient":"right","values":[0,0.1,0.2,0.3,0.4,0.5],"format":".1f","titleAngle":-90,"titleBaseline":"top","titlePadding":9}},
    "color":{"field":"f","type":"nominal","scale":{"domain":["1 kHz","10 kHz","100 kHz","1 MHz"],"range":["#4d4d4d","#f23a3a","#1c6ee8","#2eab5a"]},"legend":{"orient":"none","legendX":178,"legendY":67,"title":null,"symbolType":"M-2.8,0H2.8","symbolSize":100,"symbolStrokeWidth":2.2,"labelOffset":13,"rowPadding":3.3}}}}
 ],
 "resolve":{"scale":{"y":"independent"}}
},
{"width":257,"height":162,"title":{"text":"(e)"},
 "encoding":{"x":{"field":"T","type":"quantitative","title":"Temperature (°C)","scale":{"domain":[30,400],"nice":false,"zero":false},"axis":{"values":[100,200,300,400]}}},
 "layer":[
  {"encoding":{"y":{"field":"v","type":"quantitative","title":"εᵣ","scale":{"domain":[-7,1767],"nice":false,"zero":false},"axis":{"values":[0,500,1000,1500],"format":"d","titleFontSize":15}}},
   "layer":[
    {"data":{"name":"eps"},"transform":[{"filter":"datum.p=='0.20'"},{"fold":["1 kHz","10 kHz","100 kHz","1 MHz"],"as":["f","v"]}],
     "mark":{"type":"line","interpolate":"monotone","strokeWidth":2},
     "encoding":{"color":{"field":"f","type":"nominal","scale":{"domain":["1 kHz","10 kHz","100 kHz","1 MHz"],"range":["#4d4d4d","#f23a3a","#1c6ee8","#2eab5a"]},"legend":{"orient":"none","legendX":173,"legendY":74,"title":null,"symbolType":"M-2.8,0H2.8","symbolSize":100,"symbolStrokeWidth":2.2,"labelOffset":13,"rowPadding":3}}}},
    {"data":{"name":"ann"},"transform":[{"filter":"datum.p=='0.20'"}],
     "layer":[
      {"transform":[{"filter":"datum.k=='x'"}],"mark":{"type":"text","text":"x","fontStyle":"italic","fontSize":13,"align":"left","baseline":"middle"}},
      {"transform":[{"filter":"datum.k=='x'"}],"mark":{"type":"text","fontSize":13,"align":"left","baseline":"middle","dx":7},"encoding":{"text":{"field":"lab"}}},
      {"transform":[{"filter":"datum.k=='T'"}],"mark":{"type":"text","fontSize":16,"fontStyle":"italic","align":"center","baseline":"middle"},"encoding":{"text":{"field":"lab"}}},
      {"transform":[{"filter":"datum.k=='q'"}],"mark":{"type":"rule","color":"black","strokeWidth":1.3,"strokeDash":[4,2]},"encoding":{"x2":{"field":"T2"},"y2":{"field":"v2"}}},
      {"transform":[{"filter":"datum.k=='h'"}],"mark":{"type":"point","filled":true,"color":"black","size":50,"opacity":1},"encoding":{"shape":{"field":"h","type":"nominal","scale":{"domain":["L","R","D","DL","DL2"],"range":["triangle-left","triangle-right","triangle-down","M-1,1L-0.15,-0.55L0.55,0.15Z","M-0.4,1L0.54,-0.33L-0.1,-0.61Z"]},"legend":null}}},
      {"transform":[{"filter":"datum.k=='e'"}],"mark":{"type":"point","filled":false,"color":"black","strokeWidth":1,"strokeDash":[2,1.5],"size":150,"opacity":1,"shape":"M0,-1A0.4,1,0,1,1,0,1A0.4,1,0,1,1,0,-1Z"}}
     ]}
   ]},
  {"data":{"name":"tan"},"transform":[{"filter":"datum.p=='0.20'"},{"fold":["1 kHz","10 kHz","100 kHz","1 MHz"],"as":["f","v"]}],
   "mark":{"type":"line","interpolate":"monotone","strokeWidth":2},
   "encoding":{"y":{"field":"v","type":"quantitative","title":"tan δ","scale":{"domain":[-0.111,2.583],"nice":false,"zero":false},"axis":{"orient":"right","values":[0,0.5,1,1.5,2,2.5],"format":".1f","titleAngle":-90,"titleBaseline":"top","titlePadding":9}},
    "color":{"field":"f","type":"nominal","scale":{"domain":["1 kHz","10 kHz","100 kHz","1 MHz"],"range":["#4d4d4d","#f23a3a","#1c6ee8","#2eab5a"]},"legend":{"orient":"none","legendX":173,"legendY":74,"title":null,"symbolType":"M-2.8,0H2.8","symbolSize":100,"symbolStrokeWidth":2.2,"labelOffset":13,"rowPadding":3}}}}
 ],
 "resolve":{"scale":{"y":"independent"}}
},
{"width":257,"height":162,"title":{"text":"(f)"},
 "encoding":{"x":{"field":"T","type":"quantitative","title":"Temperature (°C)","scale":{"domain":[30,400],"nice":false,"zero":false},"axis":{"values":[50,100,150,200,250,300,350,400]}},
  "y":{"field":"v","type":"quantitative","title":"εᵣ","scale":{"domain":[226,4249],"nice":false,"zero":false},"axis":{"values":[500,1000,1500,2000,2500,3000,3500,4000],"format":"d","titleFontSize":15}}},
 "layer":[
  {"data":{"name":"eps"},"transform":[{"fold":["1 kHz"],"as":["f","v"]}],
   "mark":{"type":"line","interpolate":"monotone","strokeWidth":2},
   "encoding":{"color":{"field":"p","type":"nominal","scale":{"domain":["0.00","0.05","0.10","0.15","0.20"],"range":["#4d4d4d","#f23a3a","#1c6ee8","#2eab5a","#b67ae6"]},"legend":{"orient":"none","legendX":14,"legendY":4,"title":null,"symbolType":"M-2.8,0H2.8","symbolSize":100,"symbolStrokeWidth":2.2,"labelOffset":13,"rowPadding":3.5,"labelExpr":"'x = ' + datum.label"}}}},
  {"data":{"name":"ann"},"transform":[{"filter":"datum.p=='f'"}],
   "layer":[
    {"transform":[{"filter":"datum.k=='T'"}],"mark":{"type":"text","fontSize":16,"fontStyle":"italic","align":"center","baseline":"middle"},"encoding":{"text":{"field":"lab"}}},
    {"transform":[{"filter":"datum.k=='t'"}],"mark":{"type":"text","fontSize":13,"align":"center","baseline":"middle"},"encoding":{"text":{"field":"lab"}}},
    {"transform":[{"filter":"datum.k=='r'"}],"mark":{"type":"rule","color":"black","strokeWidth":1.3},"encoding":{"x2":{"field":"T2"},"y2":{"field":"v2"}}},
    {"transform":[{"filter":"datum.k=='q'"}],"mark":{"type":"rule","color":"black","strokeWidth":1.3,"strokeDash":[4,2]},"encoding":{"x2":{"field":"T2"},"y2":{"field":"v2"}}},
    {"transform":[{"filter":"datum.k=='h'"}],"mark":{"type":"point","filled":true,"color":"black","size":50,"opacity":1},"encoding":{"shape":{"field":"h","type":"nominal","scale":{"domain":["L","R","D","DL","DL2"],"range":["triangle-left","triangle-right","triangle-down","M-1,1L-0.15,-0.55L0.55,0.15Z","M-0.4,1L0.54,-0.33L-0.1,-0.61Z"]},"legend":null}}}
   ]}
 ]
},
{"width":257,"height":161,"title":{"text":"(g)"},
 "layer":[
  {"data":{"values":[{}]},"mark":{"type":"rect","color":{"gradient":"linear","x1":0,"y1":0,"x2":0,"y2":1,"stops":[{"offset":0,"color":"#f3faec"},{"offset":1,"color":"#b2de5c"}]}},
   "encoding":{"x":{"datum":0,"type":"quantitative","title":"Temperature (°C)","scale":{"domain":[0,400],"nice":false,"zero":false},"axis":{"values":[0,100,200,300,400]}},"x2":{"datum":400},
    "y":{"datum":743,"type":"quantitative","title":"εᵣ","scale":{"domain":[743,2712],"nice":false,"zero":false},"axis":{"values":[1000,1500,2000,2500],"format":"d","titleFontSize":15}},"y2":{"datum":2712}}},
  {"data":{"name":"g"},"mark":{"type":"rect","strokeWidth":0.6,"stroke":"#333333"},
   "encoding":{"x":{"field":"x1","type":"quantitative","title":"Temperature (°C)"},"x2":{"field":"x2"},"y":{"field":"y1","type":"quantitative","title":"εᵣ"},"y2":{"field":"y2"},
    "fill":{"field":"c","type":"nominal","scale":{"domain":["0.05","0.10","0.15","0.20","0.00"],"range":["#b81414","#4f86b8","#118811","#d946ef","#a0520a"]},"legend":null}}},
  {"data":{"name":"sep"},"mark":{"type":"rule","color":"#222222","strokeWidth":0.8},
   "encoding":{"x":{"field":"x","type":"quantitative","title":"Temperature (°C)"},"y":{"field":"y1","type":"quantitative","title":"εᵣ"},"y2":{"field":"y2"}}},
  {"data":{"name":"g"},"mark":{"type":"text","align":"right","baseline":"middle","fontSize":13},
   "encoding":{"x":{"field":"lx","type":"quantitative","title":"Temperature (°C)"},"y":{"field":"ly","type":"quantitative","title":"εᵣ"},"text":{"field":"lab"},
    "color":{"field":"c","type":"nominal","scale":{"domain":["0.05","0.10","0.15","0.20","0.00"],"range":["#d01010","#2b8f9e","#1e8c1e","#cc44ee","#8b1010"]},"legend":null}}},
  {"data":{"values":[{}]},"mark":{"type":"rect","fill":"white","stroke":"black","strokeWidth":1.2},
   "encoding":{"x":{"datum":332,"type":"quantitative"},"x2":{"datum":390},"y":{"datum":817,"type":"quantitative"},"y2":{"datum":1041}}},
  {"data":{"values":[{}]},"mark":{"type":"text","text":"±15 %","fontSize":13,"align":"center","baseline":"middle"},
   "encoding":{"x":{"datum":361,"type":"quantitative"},"y":{"datum":929,"type":"quantitative"}}},
  {"data":{"values":[{}]},"mark":{"type":"text","text":"@1 kHz","fontSize":13,"align":"left","baseline":"middle"},
   "encoding":{"x":{"datum":8,"type":"quantitative"},"y":{"datum":2590,"type":"quantitative"}}}
 ],
 "resolve":{"scale":{"color":"independent"}}
},
{"vconcat":[
 {"width":257,"height":32.2,"title":{"text":"(h)"},"data":{"name":"h"},"transform":[{"filter":"datum.s=='0.00'"}],
  "encoding":{"x":{"field":"x","type":"quantitative","scale":{"domain":[1,4],"nice":false,"zero":false},"axis":null},
   "y":{"field":"y","type":"quantitative","scale":{"domain":[-19.7,-9.5],"nice":false,"zero":false},"axis":{"values":[-10,-15],"labelExpr":"datum.value + ''","title":null}}},
  "layer":[
   {"transform":[{"filter":"datum.k=='b'"}],"mark":{"type":"area","color":"black"},"encoding":{"y2":{"field":"y2"}}},
   {"transform":[{"filter":"datum.k=='p'"}],"mark":{"type":"point","shape":"square","filled":true,"color":"black","size":22,"opacity":1}},
   {"transform":[{"filter":"datum.k=='f'"}],"mark":{"type":"line","color":"#ff0000","strokeWidth":1.6}},
   {"transform":[{"filter":"datum.k=='t'"}],"mark":{"type":"text","text":"x","fontStyle":"italic","fontSize":12.5,"align":"left","baseline":"middle"}},
   {"transform":[{"filter":"datum.k=='t'"}],"mark":{"type":"text","fontSize":12.5,"align":"left","baseline":"middle","dx":9},"encoding":{"text":{"field":"lab"}}},
   {"transform":[{"filter":"datum.k=='g'"}],"mark":{"type":"text","fontSize":12.5,"align":"right","baseline":"middle"},"encoding":{"text":{"field":"lab"}}}
  ]},
 {"width":257,"height":32.2,"data":{"name":"h"},"transform":[{"filter":"datum.s=='0.05'"}],
  "encoding":{"x":{"field":"x","type":"quantitative","scale":{"domain":[1,4],"nice":false,"zero":false},"axis":null},
   "y":{"field":"y","type":"quantitative","scale":{"domain":[-18.05,-7.8],"nice":false,"zero":false},"axis":{"values":[-10,-15],"labelExpr":"datum.value + ''","title":null}}},
  "layer":[
   {"transform":[{"filter":"datum.k=='b'"}],"mark":{"type":"area","color":"black"},"encoding":{"y2":{"field":"y2"}}},
   {"transform":[{"filter":"datum.k=='p'"}],"mark":{"type":"point","shape":"square","filled":true,"color":"black","size":22,"opacity":1}},
   {"transform":[{"filter":"datum.k=='f'"}],"mark":{"type":"line","color":"#ff0000","strokeWidth":1.6}},
   {"transform":[{"filter":"datum.k=='t'"}],"mark":{"type":"text","text":"x","fontStyle":"italic","fontSize":12.5,"align":"left","baseline":"middle"}},
   {"transform":[{"filter":"datum.k=='t'"}],"mark":{"type":"text","fontSize":12.5,"align":"left","baseline":"middle","dx":9},"encoding":{"text":{"field":"lab"}}},
   {"transform":[{"filter":"datum.k=='g'"}],"mark":{"type":"text","fontSize":12.5,"align":"right","baseline":"middle"},"encoding":{"text":{"field":"lab"}}}
  ]},
 {"width":257,"height":32.2,"data":{"name":"h"},"transform":[{"filter":"datum.s=='0.10'"}],
  "encoding":{"x":{"field":"x","type":"quantitative","scale":{"domain":[1,4],"nice":false,"zero":false},"axis":null},
   "y":{"field":"y","type":"quantitative","scale":{"domain":[-18.05,-7.8],"nice":false,"zero":false},"axis":{"values":[-10,-15],"labelExpr":"datum.value + ''","title":"ln(1/εᵣ-1/εₘ)"}}},
  "layer":[
   {"transform":[{"filter":"datum.k=='b'"}],"mark":{"type":"area","color":"black"},"encoding":{"y2":{"field":"y2"}}},
   {"transform":[{"filter":"datum.k=='p'"}],"mark":{"type":"point","shape":"square","filled":true,"color":"black","size":22,"opacity":1}},
   {"transform":[{"filter":"datum.k=='f'"}],"mark":{"type":"line","color":"#ff0000","strokeWidth":1.6}},
   {"transform":[{"filter":"datum.k=='t'"}],"mark":{"type":"text","text":"x","fontStyle":"italic","fontSize":12.5,"align":"left","baseline":"middle"}},
   {"transform":[{"filter":"datum.k=='t'"}],"mark":{"type":"text","fontSize":12.5,"align":"left","baseline":"middle","dx":9},"encoding":{"text":{"field":"lab"}}},
   {"transform":[{"filter":"datum.k=='g'"}],"mark":{"type":"text","fontSize":12.5,"align":"right","baseline":"middle"},"encoding":{"text":{"field":"lab"}}}
  ]},
 {"width":257,"height":32.2,"data":{"name":"h"},"transform":[{"filter":"datum.s=='0.15'"}],
  "encoding":{"x":{"field":"x","type":"quantitative","scale":{"domain":[1,4],"nice":false,"zero":false},"axis":null},
   "y":{"field":"y","type":"quantitative","scale":{"domain":[-18.05,-7.8],"nice":false,"zero":false},"axis":{"values":[-10,-15],"labelExpr":"datum.value + ''","title":null}}},
  "layer":[
   {"transform":[{"filter":"datum.k=='b'"}],"mark":{"type":"area","color":"black"},"encoding":{"y2":{"field":"y2"}}},
   {"transform":[{"filter":"datum.k=='p'"}],"mark":{"type":"point","shape":"square","filled":true,"color":"black","size":22,"opacity":1}},
   {"transform":[{"filter":"datum.k=='f'"}],"mark":{"type":"line","color":"#ff0000","strokeWidth":1.6}},
   {"transform":[{"filter":"datum.k=='t'"}],"mark":{"type":"text","text":"x","fontStyle":"italic","fontSize":12.5,"align":"left","baseline":"middle"}},
   {"transform":[{"filter":"datum.k=='t'"}],"mark":{"type":"text","fontSize":12.5,"align":"left","baseline":"middle","dx":9},"encoding":{"text":{"field":"lab"}}},
   {"transform":[{"filter":"datum.k=='g'"}],"mark":{"type":"text","fontSize":12.5,"align":"right","baseline":"middle"},"encoding":{"text":{"field":"lab"}}}
  ]},
 {"width":257,"height":32.2,"data":{"name":"h"},"transform":[{"filter":"datum.s=='0.20'"}],
  "encoding":{"x":{"field":"x","type":"quantitative","scale":{"domain":[1,4],"nice":false,"zero":false},"axis":{"values":[1,2,3,4],"format":"d","title":"ln(T-Tₘ)","titlePadding":0}},
   "y":{"field":"y","type":"quantitative","scale":{"domain":[-18.05,-7.8],"nice":false,"zero":false},"axis":{"values":[-10,-15],"labelExpr":"datum.value + ''","title":null}}},
  "layer":[
   {"transform":[{"filter":"datum.k=='b'"}],"mark":{"type":"area","color":"black"},"encoding":{"y2":{"field":"y2"}}},
   {"transform":[{"filter":"datum.k=='p'"}],"mark":{"type":"point","shape":"square","filled":true,"color":"black","size":22,"opacity":1}},
   {"transform":[{"filter":"datum.k=='f'"}],"mark":{"type":"line","color":"#ff0000","strokeWidth":1.6}},
   {"transform":[{"filter":"datum.k=='t'"}],"mark":{"type":"text","text":"x","fontStyle":"italic","fontSize":12.5,"align":"left","baseline":"middle"}},
   {"transform":[{"filter":"datum.k=='t'"}],"mark":{"type":"text","fontSize":12.5,"align":"left","baseline":"middle","dx":9},"encoding":{"text":{"field":"lab"}}},
   {"transform":[{"filter":"datum.k=='g'"}],"mark":{"type":"text","fontSize":12.5,"align":"right","baseline":"middle"},"encoding":{"text":{"field":"lab"}}}
  ]}
 ],
 "spacing":0,"bounds":"flush"}
]
}
